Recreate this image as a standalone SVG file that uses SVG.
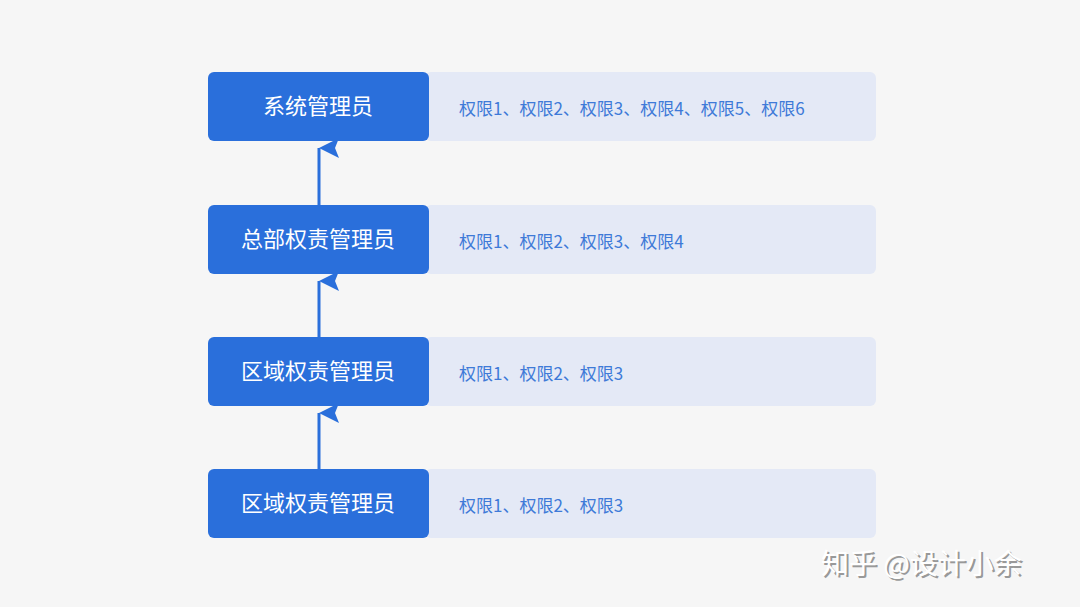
<svg xmlns="http://www.w3.org/2000/svg" width="1080" height="607" viewBox="0 0 1080 607">
<style>
.b{fill:#2a6fdb}.g{fill:#e4e9f6}
.t{font-family:"Noto Sans CJK SC",sans-serif;font-size:22px;fill:#fff;text-anchor:middle}
.p{font-family:"Noto Sans CJK SC",sans-serif;font-size:17px;fill:#3e7ad8}
.w{font-family:"Noto Sans CJK SC",sans-serif;font-size:28px}
</style>
<defs><marker id="a" markerWidth="10" markerHeight="10" refX="5" refY="8" orient="auto" markerUnits="userSpaceOnUse" viewBox="0 0 10 10"><path d="M0,10 L5,0 L10,10 L5,8 Z" fill="#2a6fdb" transform="rotate(0)"/></marker>
<marker id="m" markerWidth="20" markerHeight="20" refX="10" refY="0" orient="auto-start-reverse" markerUnits="userSpaceOnUse" viewBox="0 0 20 20"><path d="M0,20 L10,0 L20,20 L10,16 Z" fill="#2a6fdb"/></marker></defs>
<rect width="1080" height="607" fill="#f6f6f6"/>
<g id="connectors" stroke="#2a6fdb" stroke-width="3">
<line x1="319" y1="205" x2="319" y2="148" marker-end="url(#m)"/>
<line x1="319" y1="337" x2="319" y2="281" marker-end="url(#m)"/>
<line x1="319" y1="469" x2="319" y2="413" marker-end="url(#m)"/>
</g>
<g id="n1"><rect class="g" x="425" y="72" width="451" height="69" rx="6"/><rect class="b" x="208" y="72" width="221" height="69" rx="6"/><text class="t" x="318" y="114">系统管理员</text><text class="p" x="459" y="115">权限1、权限2、权限3、权限4、权限5、权限6</text></g>
<g id="n2"><rect class="g" x="425" y="205" width="451" height="69" rx="6"/><rect class="b" x="208" y="205" width="221" height="69" rx="6"/><text class="t" x="318" y="247">总部权责管理员</text><text class="p" x="459" y="248">权限1、权限2、权限3、权限4</text></g>
<g id="n3"><rect class="g" x="425" y="337" width="451" height="69" rx="6"/><rect class="b" x="208" y="337" width="221" height="69" rx="6"/><text class="t" x="318" y="379">区域权责管理员</text><text class="p" x="459" y="380">权限1、权限2、权限3</text></g>
<g id="n4"><rect class="g" x="425" y="469" width="451" height="69" rx="6"/><rect class="b" x="208" y="469" width="221" height="69" rx="6"/><text class="t" x="318" y="511">区域权责管理员</text><text class="p" x="459" y="512">权限1、权限2、权限3</text></g>
<text class="w" x="823" y="576" fill="#999">知乎 @设计小余</text>
<text class="w" x="821" y="574" fill="#fff">知乎 @设计小余</text>
</svg>
